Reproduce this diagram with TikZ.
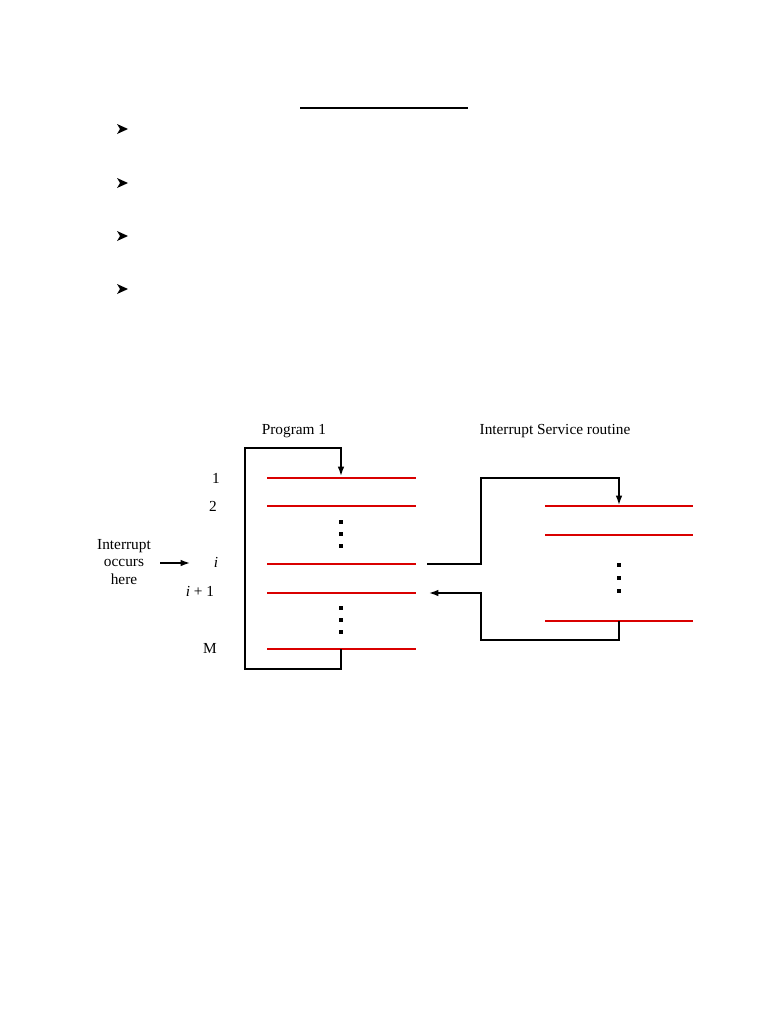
\documentclass[tikz,border=0pt]{standalone}
\usepackage{fontspec}
\setmainfont{Liberation Serif}
\usetikzlibrary{arrows.meta}
\begin{document}
\begin{tikzpicture}[x=0.75pt,y=-0.75pt,
  red line/.style={draw=red!85!black, line width=1.1pt},
  conn/.style={draw=black, line width=1.2pt},
  arr/.style={-{Latex[length=7pt,width=5pt]}},
  lbl/.style={font=\fontsize{11.5}{13}\selectfont, inner sep=0pt},
  dotsq/.style={fill=black, minimum size=3.5pt, inner sep=0pt}]
\useasboundingbox (0,0) rectangle (768,1024);
% title rule and bullets
\draw[line width=1.5pt] (300,108) -- (468,108);
\foreach \y in {129,183,236,289}
  \fill (117,\y-5) -- (128,\y) -- (117,\y+5) -- (120,\y) -- cycle;
% labels
\node[lbl] (p1) at (294,431) {Program 1};
\node[lbl] (isr) at (555,431) {Interrupt Service routine};
\node[lbl] (n1) at (216,478) {1};
\node[lbl] (n2) at (213,506) {2};
\node[lbl] (ni) at (216,562) {\textit{i}};
\node[lbl] (ni1) at (200,591) {\textit{i} + 1};
\node[lbl] (nM) at (210,648) {M};
\node[lbl, align=center] (int) at (124,562) {Interrupt\\occurs\\here};
\coordinate (ia) at (160,563);
\coordinate (ib) at (190,563);
\draw[conn, arr] (ia) -- (ib);
% program lines
\foreach \n/\y in {a/478,b/506,c/564,d/593,e/649}{
  \coordinate (L\n s) at (267,\y); \coordinate (L\n e) at (416,\y);
  \draw[red line] (L\n s) -- (L\n e);}
\foreach \y in {522,534,546,608,620,632} \node[dotsq] at (341,\y) {};
% ISR lines
\foreach \n/\y in {a/506,b/535,c/621}{
  \coordinate (R\n s) at (545,\y); \coordinate (R\n e) at (693,\y);
  \draw[red line] (R\n s) -- (R\n e);}
\foreach \y in {565,578,591} \node[dotsq] at (619,\y) {};
% loop around program
\coordinate (pTop) at (341,476);
\coordinate (pBot) at (341,649);
\draw[conn, arr] (pBot) -- (341,669) -- (245,669) -- (245,448) -- (341,448) -- (pTop);
% jump to ISR
\coordinate (jo) at (427,564);
\coordinate (ji) at (619,505);
\draw[conn, arr] (jo) -- (481,564) -- (481,478) -- (619,478) -- (ji);
% return
\coordinate (ro) at (619,621);
\coordinate (ri) at (429,593);
\draw[conn, arr] (ro) -- (619,640) -- (481,640) -- (481,593) -- (ri);
\end{tikzpicture}
\end{document}
